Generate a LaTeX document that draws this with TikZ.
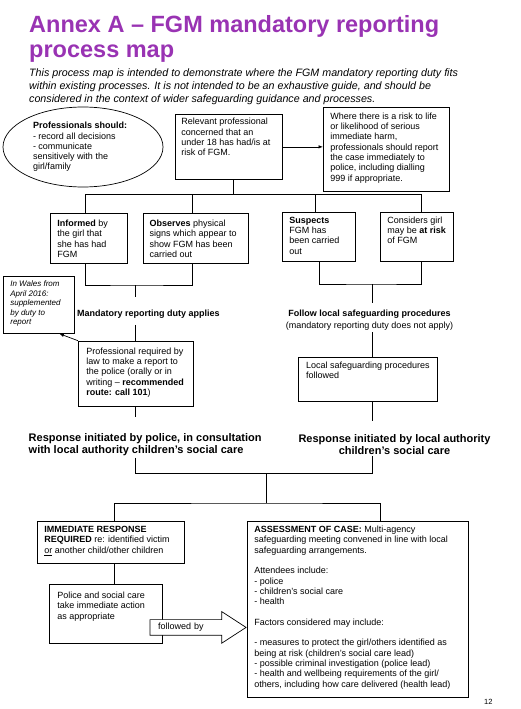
\documentclass[tikz,border=0pt]{standalone}
\usepackage{fontspec}
\setmainfont{Liberation Sans}
\usetikzlibrary{arrows.meta,calc,shapes.geometric,shapes.arrows}
\definecolor{annexpurple}{RGB}{153,51,179}
\newcommand{\bodysize}{\fontsize{9}{10.3}\selectfont}
\newcommand{\boxtext}[3]{\parbox[c][#2][t]{#1}{\raggedright\strut#3}}

\begin{document}
\begin{tikzpicture}[x=1pt, y=-1pt,
  font=\bodysize,
  box/.style={draw, rectangle, line width=0.7pt, anchor=north west,
    inner xsep=7pt, inner ysep=4pt, font=\bodysize},
  oval/.style={draw, ellipse, line width=0.7pt, minimum width=160pt,
    minimum height=80pt, inner sep=0pt, font=\bodysize},
  lbl/.style={inner sep=0pt},
  link/.style={line width=0.7pt},
  tip/.style={-{Latex[length=4.5pt, width=3.5pt]}},
  fwd/.style={single arrow, draw, line width=0.7pt, fill=white, anchor=tip,
    minimum height=96pt, text width=68pt, align=left, inner xsep=2pt,
    inner ysep=3.25pt, single arrow head extend=8pt,
    single arrow tip angle=66, font=\bodysize}]
\useasboundingbox (0,0) rectangle (521,709);
% Heading
\node[lbl, anchor=north west, align=left, text=annexpurple,
  font=\fontsize{23.5}{25.5}\selectfont\bfseries] (title) at (29,15.2)
  {Annex A -- FGM mandatory reporting\\process map};
\node[lbl, anchor=north west, align=left,
  font=\fontsize{10.7}{12.7}\selectfont\itshape] (intro) at (29,68.9)
  {This process map is intended to demonstrate where the FGM mandatory reporting duty fits\\
   within existing processes. It is not intended to be an exhaustive guide, and should be\\
   considered in the context of wider safeguarding guidance and processes.};
% Top row
\node[oval] (should) at (83,147) {\parbox{100pt}{\raggedright
  \textbf{Professionals should:}\\- record all decisions\\- communicate\\sensitively with the\\girl/family}};
\node[box, inner xsep=6pt, inner ysep=3.4pt] (rel) at (175,114)
  {\boxtext{95pt}{58.2pt}{Relevant professional\\concerned that an\\under 18 has had/is at\\risk of FGM.}};
\node[box, inner ysep=4.8pt] (risk) at (323,107)
  {\boxtext{112pt}{74.4pt}{Where there is a risk to life\\or likelihood of serious\\immediate harm,\\professionals should report\\the case immediately to\\police, including dialling\\999 if appropriate.}};
% Four cases
\node[box, inner ysep=6.4pt] (informed) at (50,212.7)
  {\boxtext{63pt}{37.2pt}{\textbf{Informed} by\\the girl that\\she has had\\FGM}};
\node[box, inner xsep=6.3pt, inner ysep=6.4pt] (observes) at (143,212.7)
  {\boxtext{92.4pt}{37.2pt}{\textbf{Observes} physical\\signs which appear to\\show FGM has been\\carried out}};
\node[box, inner ysep=3.5pt] (suspects) at (282,212.3)
  {\boxtext{59pt}{41.5pt}{\textbf{Suspects}\\FGM has\\been carried\\out}};
\node[box, inner ysep=3.5pt] (considers) at (380,212.3)
  {\boxtext{59pt}{41.5pt}{Considers girl\\may be \textbf{at risk}\\of FGM}};
% Left branch: mandatory duty
\node[lbl, anchor=west, font=\bodysize\bfseries] (mand) at (77,314)
  {Mandatory reporting duty applies};
\node[box, inner ysep=3.5pt, font=\fontsize{8}{9.5}\selectfont\itshape] (wales) at (3,276)
  {\boxtext{57pt}{50pt}{In Wales from\\April 2016:\\supplemented\\by duty to\\report}};
\node[box, inner xsep=8pt, inner ysep=6.1pt] (prof) at (78,340.7)
  {\boxtext{99pt}{53.1pt}{Professional required by\\law to make a report to\\the police (orally or in\\writing -- \textbf{recommended}\\\textbf{route: call 101})}};
\node[lbl, anchor=north west, align=left,
  font=\fontsize{11}{12.3}\selectfont\bfseries] (resp1) at (28.5,433)
  {Response initiated by police, in consultation\\with local authority children's social care};
% Right branch: local procedures
\node[lbl, align=center, font=\fontsize{9}{12}\selectfont] (follow) at (369.5,320)
  {\textbf{Follow local safeguarding procedures}\\(mandatory reporting duty does not apply)};
\node[box, inner xsep=7.7pt, inner ysep=3.5pt] (localsg) at (298,357.3)
  {\boxtext{123.6pt}{36.7pt}{Local safeguarding procedures\\followed}};
\node[lbl, align=center, font=\fontsize{11}{12.3}\selectfont\bfseries] (resp2) at (394.5,444.3)
  {Response initiated by local authority\\children's social care};
% Bottom row
\node[box, inner xsep=7.3pt, inner ysep=4.4pt] (immediate) at (36.7,520.7)
  {\boxtext{132.7pt}{33.5pt}{\textbf{IMMEDIATE RESPONSE}\\\textbf{REQUIRED} re: identified victim\\\underline{or} another child/other children}};
\node[box, inner xsep=7.7pt, inner ysep=7.1pt] (police) at (49.3,584)
  {\boxtext{97.3pt}{44.8pt}{Police and social care\\take immediate action\\as appropriate}};
\node[box, inner xsep=7.3pt, inner ysep=4.4pt] (assess) at (246.7,520.7)
  {\boxtext{206.7pt}{167.5pt}{\textbf{ASSESSMENT OF CASE:} Multi-agency\\safeguarding meeting convened in line with local\\safeguarding arrangements.\\[10.3pt]Attendees include:\\- police\\- children's social care\\- health\\[10.3pt]Factors considered may include:\\[10.3pt]- measures to protect the girl/others identified as\\being at risk (children's social care lead)\\- possible criminal investigation (police lead)\\- health and wellbeing requirements of the girl/\\others, including how care delivered (health lead)}};
\node[fwd] (fby) at ([yshift=-18.2pt]assess.west) {followed by};
\node[lbl, anchor=west, font=\fontsize{7.5}{9}\selectfont] (page) at (484,701.7) {12};
% Junctions
\coordinate (fan) at (233,194.5);
\coordinate (lmerge) at (135,285);
\coordinate (rmerge) at (372,284);
\coordinate (lfoot) at (135,473);
\coordinate (rfoot) at (372,473);
\coordinate (mid) at (266,473);
\coordinate (fork) at (266,503);
% Top fan
\draw[link] (rel.south -| fan) -- (fan);
\draw[link] ([xshift=-3.5pt]informed.north) |- ([xshift=4.5pt]considers.north |- fan)
  -- ([xshift=4.5pt]considers.north);
\draw[link] ([xshift=-3.5pt]observes.north) -- ([xshift=-3.5pt]observes.north |- fan);
\draw[link] ([xshift=-3.5pt]suspects.north) -- ([xshift=-3.5pt]suspects.north |- fan);
\draw[link, tip] (rel.east) -- (rel.east -| risk.west);
% Left branch
\draw[link] ([xshift=-3.5pt]informed.south) |- (lmerge) -| ([xshift=-3.5pt]observes.south);
\draw[link, shorten >=12.5pt] (lmerge) -- (lmerge |- mand.north);
\draw[link, shorten <=6.5pt] (mand.south -| lmerge) -- (prof.north -| lmerge);
\draw[link, tip] (prof.north west) -- ([xshift=20.5pt]wales.south);
\draw[link, shorten >=16pt] (prof.south -| lmerge) -- (resp1.north -| lmerge);
% Right branch
\draw[link] (suspects.south) |- (rmerge) -| ([xshift=4.5pt]considers.south);
\draw[link, shorten >=6.4pt] (rmerge) -- (rmerge |- follow.north);
\draw[link, shorten <=1.8pt] (follow.south -| rmerge) -- (localsg.north -| rmerge);
\draw[link, shorten >=13pt] (localsg.south -| rmerge) -- (resp2.north -| rmerge);
% Both responses lead to the bottom row
\draw[link, shorten <=2pt, shorten >=1.5pt] (resp1.south -| lfoot) -- (lfoot) -- (rfoot)
  -- (resp2.south -| rfoot);
\draw[link] (mid) -- (fork);
\draw[link] ([xshift=3.7pt]immediate.north) |- (fork) -| ([xshift=22.7pt]assess.north);
\draw[link] ([xshift=3.7pt]immediate.south) -- ([xshift=3.7pt]immediate.south |- police.north);
\end{tikzpicture}
\end{document}
